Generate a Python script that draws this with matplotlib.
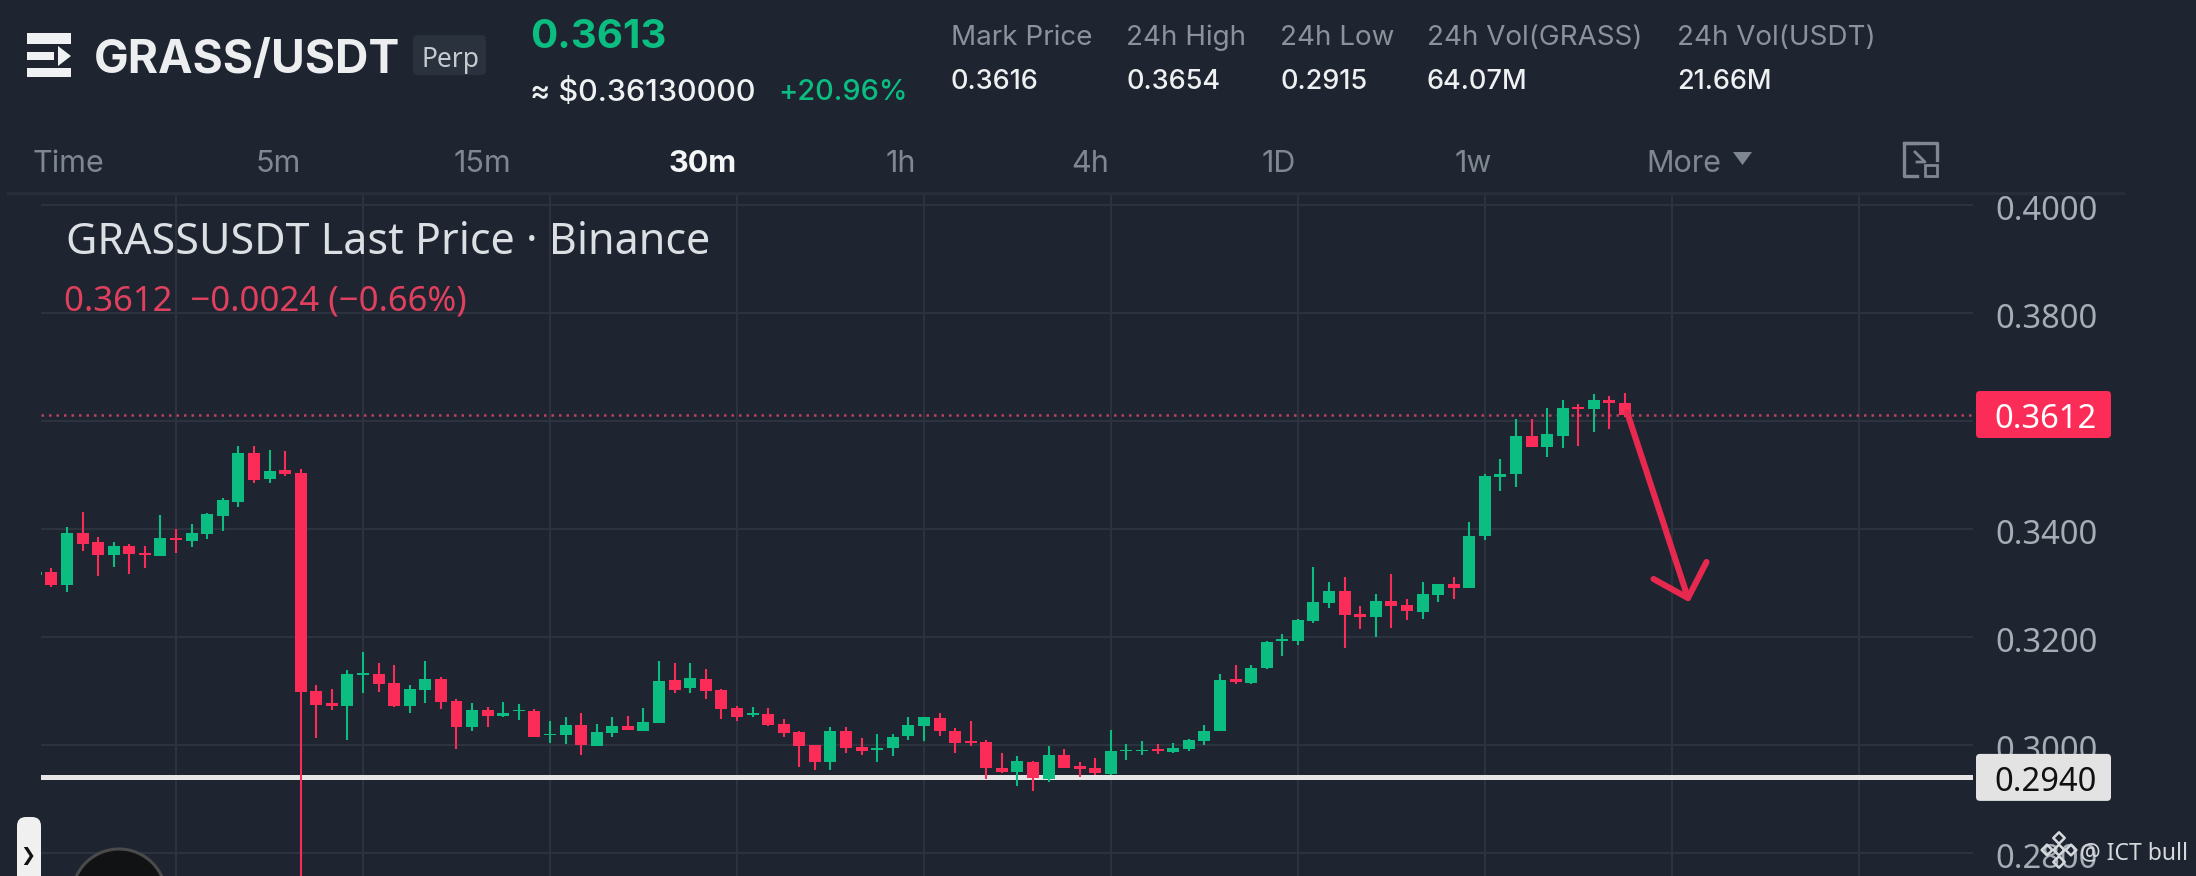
import numpy as np
import matplotlib
matplotlib.use('Agg')
import matplotlib.pyplot as plt
from matplotlib.patches import FancyBboxPatch, Circle, Polygon, Rectangle
from matplotlib.transforms import ScaledTranslation

# 30m candles, first one is cut by the left edge
opens = [0.3314, 0.3320, 0.3296, 0.3393, 0.3376, 0.3352, 0.3369, 0.3355, 0.3350, 0.3383,
         0.3377, 0.3391, 0.3424, 0.3450, 0.3541, 0.3493, 0.3509, 0.3504, 0.3100, 0.3077,
         0.3072, 0.3130, 0.3131, 0.3115, 0.3073, 0.3102, 0.3122, 0.3081, 0.3033, 0.3065,
         0.3054, 0.3063, 0.3063, 0.3018, 0.3019, 0.3037, 0.2999, 0.3022, 0.3035, 0.3026,
         0.3041, 0.3120, 0.3106, 0.3122, 0.3102, 0.3069, 0.3056, 0.3057, 0.3039, 0.3024,
         0.3000, 0.2969, 0.3026, 0.2996, 0.2990, 0.2994, 0.3017, 0.3035, 0.3050, 0.3026,
         0.3007, 0.3006, 0.2957, 0.2950, 0.2969, 0.2937, 0.2981, 0.2961, 0.2957, 0.2947,
         0.2988, 0.2988, 0.2992, 0.2987, 0.2993, 0.3007, 0.3026, 0.3122, 0.3115, 0.3142,
         0.3193, 0.3193, 0.3230, 0.3263, 0.3285, 0.3242, 0.3237, 0.3267, 0.3259, 0.3246,
         0.3278, 0.3298, 0.3291, 0.3387, 0.3496, 0.3502, 0.3572, 0.3552, 0.3572, 0.3626,
         0.3622, 0.3638, 0.3633]
closes = [0.3320, 0.3296, 0.3393, 0.3372, 0.3352, 0.3369, 0.3354, 0.3352, 0.3383, 0.3380,
          0.3393, 0.3428, 0.3454, 0.3541, 0.3491, 0.3507, 0.3502, 0.3098, 0.3074, 0.3073,
          0.3131, 0.3133, 0.3113, 0.3072, 0.3104, 0.3122, 0.3080, 0.3034, 0.3064, 0.3054,
          0.3059, 0.3065, 0.3015, 0.3020, 0.3037, 0.3000, 0.3024, 0.3035, 0.3028, 0.3043,
          0.3119, 0.3102, 0.3124, 0.3100, 0.3067, 0.3051, 0.3059, 0.3037, 0.3022, 0.2998,
          0.2969, 0.3026, 0.2994, 0.2989, 0.2994, 0.3015, 0.3037, 0.3051, 0.3026, 0.3004,
          0.3004, 0.2957, 0.2950, 0.2970, 0.2939, 0.2981, 0.2957, 0.2956, 0.2948, 0.2989,
          0.2991, 0.2991, 0.2989, 0.2994, 0.3009, 0.3026, 0.3120, 0.3117, 0.3143, 0.3191,
          0.3197, 0.3231, 0.3265, 0.3285, 0.3241, 0.3237, 0.3267, 0.3257, 0.3248, 0.3280,
          0.3298, 0.3291, 0.3387, 0.3498, 0.3502, 0.3572, 0.3552, 0.3576, 0.3624, 0.3622,
          0.3639, 0.3634, 0.3611]
highs = [0.3320, 0.3328, 0.3403, 0.3431, 0.3385, 0.3376, 0.3372, 0.3369, 0.3426, 0.3400,
         0.3409, 0.3429, 0.3457, 0.3554, 0.3554, 0.3546, 0.3544, 0.3511, 0.3112, 0.3104,
         0.3138, 0.3173, 0.3151, 0.3148, 0.3112, 0.3156, 0.3126, 0.3085, 0.3078, 0.3070,
         0.3080, 0.3075, 0.3066, 0.3044, 0.3052, 0.3059, 0.3039, 0.3051, 0.3054, 0.3069,
         0.3156, 0.3152, 0.3152, 0.3140, 0.3103, 0.3072, 0.3071, 0.3069, 0.3048, 0.3026,
         0.3000, 0.3033, 0.3033, 0.3013, 0.3020, 0.3020, 0.3052, 0.3051, 0.3060, 0.3031,
         0.3044, 0.3009, 0.2986, 0.2980, 0.2970, 0.2998, 0.2993, 0.2968, 0.2976, 0.3027,
         0.3001, 0.3007, 0.3001, 0.3003, 0.3012, 0.3037, 0.3131, 0.3149, 0.3149, 0.3192,
         0.3205, 0.3233, 0.3330, 0.3302, 0.3311, 0.3257, 0.3280, 0.3317, 0.3270, 0.3302,
         0.3298, 0.3311, 0.3413, 0.3501, 0.3530, 0.3604, 0.3604, 0.3624, 0.3639, 0.3632,
         0.3650, 0.3646, 0.3652]
lows = [0.3314, 0.3292, 0.3284, 0.3359, 0.3313, 0.3330, 0.3317, 0.3328, 0.3350, 0.3355,
        0.3367, 0.3382, 0.3396, 0.3441, 0.3486, 0.3485, 0.3498, 0.2700, 0.3013, 0.3065,
        0.3010, 0.3096, 0.3098, 0.3071, 0.3059, 0.3077, 0.3066, 0.2993, 0.3025, 0.3033,
        0.3051, 0.3046, 0.3014, 0.3004, 0.3002, 0.2981, 0.2998, 0.3015, 0.3027, 0.3025,
        0.3040, 0.3096, 0.3096, 0.3085, 0.3048, 0.3044, 0.3051, 0.3036, 0.3015, 0.2960,
        0.2954, 0.2954, 0.2985, 0.2981, 0.2968, 0.2980, 0.3009, 0.3007, 0.3017, 0.2985,
        0.2998, 0.2937, 0.2948, 0.2924, 0.2915, 0.2932, 0.2957, 0.2941, 0.2944, 0.2944,
        0.2972, 0.2981, 0.2983, 0.2986, 0.2988, 0.3000, 0.3025, 0.3113, 0.3113, 0.3141,
        0.3164, 0.3185, 0.3225, 0.3254, 0.3180, 0.3215, 0.3200, 0.3216, 0.3231, 0.3233,
        0.3265, 0.3270, 0.3290, 0.3380, 0.3470, 0.3478, 0.3551, 0.3533, 0.3550, 0.3554,
        0.3580, 0.3585, 0.3607]

price_ticks = [0.28, 0.30, 0.32, 0.34, 0.36, 0.38, 0.40]
last_price = 0.3612
support_price = 0.2940

stat_names = ['Mark Price', '24h High', '24h Low', '24h Vol(GRASS)', '24h Vol(USDT)']
stat_values = ['0.3616', '0.3654', '0.2915', '64.07M', '21.66M']
intervals = ['Time', '5m', '15m', '30m', '1h', '4h', '1D', '1w', 'More']

BG = '#1e2530'
GRID = '#2d343f'
UP = '#0bbd80'
DOWN = '#fb2c57'
W, H = 2196, 876
plt.rcParams['font.family'] = ['Noto Sans', 'DejaVu Sans']
HEAD = ['Inter', 'DejaVu Sans']

fig = plt.figure(figsize=(W / 100, H / 100), dpi=100, facecolor=BG)

# chart area
ax = fig.add_axes([41 / W, 0, (1973 - 41) / W, (H - 193) / H], facecolor='none')
ax.set_xlim(-0.667, 123.33)
ax.set_ylim(0.27574, 0.40222)
for s in ax.spines.values():
    s.set_visible(False)
ax.yaxis.tick_right()
ax.set_yticks(price_ticks)
ax.set_yticklabels(['%.4f' % p for p in price_ticks])
ax.set_xticks(np.arange(8, 120, 12))
ax.tick_params(axis='x', length=0, labelbottom=False)
ax.tick_params(axis='y', length=0, pad=16, labelsize=23.5, labelcolor='#a7adb5')
ax.grid(True, color=GRID, linewidth=1.4)
ax.set_axisbelow(True)

# labels sit a touch lower than the grid lines
nudge = ScaledTranslation(0, -1.5 / 72, fig.dpi_scale_trans)
for t in ax.get_yticklabels():
    t.set_transform(t.get_transform() + nudge)

ax.axhline(last_price, color='#b8435f', linewidth=1.8, linestyle=(0, (1, 2.0)), zorder=1)
ax.axhline(support_price, color='#e6e6e6', linewidth=3.6, zorder=1.5)

# candles
idx = np.arange(-1, len(opens) - 1)
o, c, h, l = map(np.array, (opens, closes, highs, lows))
colors = np.where(c >= o, UP, DOWN)
ax.vlines(idx, l, h, colors=colors, linewidth=1.5, zorder=2)
ax.bar(idx, np.abs(c - o), bottom=np.minimum(o, c), width=0.77, color=colors, linewidth=0, zorder=3)

# everything else sits on a pixel overlay
ui = fig.add_axes([0, 0, 1, 1], zorder=5)
ui.set_xlim(0, W)
ui.set_ylim(H, 0)
ui.axis('off')


def label(x, y, s, size, color, weight='normal', ha='left', **kw):
    ui.text(x, y, s, fontsize=size, color=color, fontweight=weight, ha=ha, va='center_baseline', **kw)


def price_y(p):
    return H - ax.transData.transform((0, p))[1]


def tag(p, face, text_color):
    yc = price_y(p)
    ui.add_patch(FancyBboxPatch((1976, yc - 23.5), 135, 47, boxstyle='round,pad=0,rounding_size=4',
                                fc=face, ec='none', zorder=3))
    label(2046, yc + 1, '%.4f' % p, 23.5, text_color, ha='center', zorder=4)


tag(last_price, DOWN, 'white')
tag(support_price, '#e3e3e3', '#111111')

# header
ui.plot([8, 2123], [193, 193], color='#272e39', lw=2.5, zorder=0)
for y0, y1, x1 in [(33, 44, 71), (52, 60, 54), (68, 77, 71)]:
    ui.add_patch(Rectangle((27, y0), x1 - 27, y1 - y0, fc='#f0f1f3', ec='none'))
ui.add_patch(Polygon([(58, 46), (71, 56), (58, 66)], fc='#f0f1f3', ec='none'))

label(94, 56, 'GRASS/USDT', 33.3, '#eceef0', 'bold', family=HEAD)
ui.add_patch(FancyBboxPatch((413, 35), 73, 40, boxstyle='round,pad=0,rounding_size=5', fc='#2a323e', ec='none'))
label(421, 56, 'Perp', 19, '#c6cacf')
label(530, 33, '0.3613', 29, UP, 'bold', family=HEAD)
label(530, 89, '≈ $0.36130000', 22, '#eef0f2', 'medium', family=HEAD)
label(778, 89, '+20.96%', 20.8, UP, 'medium', family=HEAD)

for x, name, val in zip([951, 1126, 1280, 1427, 1677], stat_names, stat_values):
    label(x, 35, name, 20, '#8b929c', family=HEAD)
    label(x, 79, val, 19.5, '#eef0f2', 'medium', family=HEAD)

for x, name in zip([33, 256, 454, 668, 886, 1071, 1262, 1455, 1646], intervals):
    active = name == '30m'
    label(x, 161, name, 22, '#f5f6f7' if active else '#7f8791', 'bold' if active else 'normal', family=HEAD)
ui.add_patch(Polygon([(1733, 152), (1752, 152), (1742.5, 165)], fc='#7f8791', ec='none'))

# the little layout icon
ui.plot([1917, 1904, 1904, 1917], [143, 143, 176, 176], color='#7f8791', lw=2.4)
ui.plot([1904, 1937, 1937], [143, 143, 160], color='#7f8791', lw=2.4)
ui.plot([1915, 1925, 1925, 1917], [152, 162, 162, 162], color='#7f8791', lw=2)
ui.add_patch(Rectangle((1925, 165), 12, 11, fc='none', ec='#7f8791', lw=2))

# legend text
label(66, 238, 'GRASSUSDT Last Price · Binance', 31, '#dcdfe3')
label(64, 298, '0.3612  −0.0024 (−0.66%)', 25, '#e0405e')

# drawn arrow
arrow = '#e8294f'
ui.plot([1627, 1688], [412, 598], color=arrow, lw=4.4, solid_capstyle='round')
ui.plot([1653.5, 1688, 1706.5], [579, 598, 562], color=arrow, lw=4.4,
        solid_capstyle='round', solid_joinstyle='round')

# bottom-left widgets
ui.add_patch(FancyBboxPatch((19, 819), 20, 70, boxstyle='round,pad=2,rounding_size=9', fc='#f0f0f0', ec='none'))
label(28, 854, '❯', 13, '#111111', ha='center', family=['DejaVu Sans'])
ui.add_patch(Circle((119, 896), 47, fc='#101214', ec='#4a4a4a', lw=2.2))

# watermark
wm = '#d6d9dc'
ui.scatter([2059, 2059, 2059, 2047, 2071], [850, 838, 862, 850, 850], marker='D',
           s=[30, 34, 34, 30, 30], facecolor='none', edgecolor=wm, linewidth=1.8)
label(2080, 850, '@ ICT bull', 16.5, wm)

fig.savefig('out.png', dpi=100, facecolor=BG)
